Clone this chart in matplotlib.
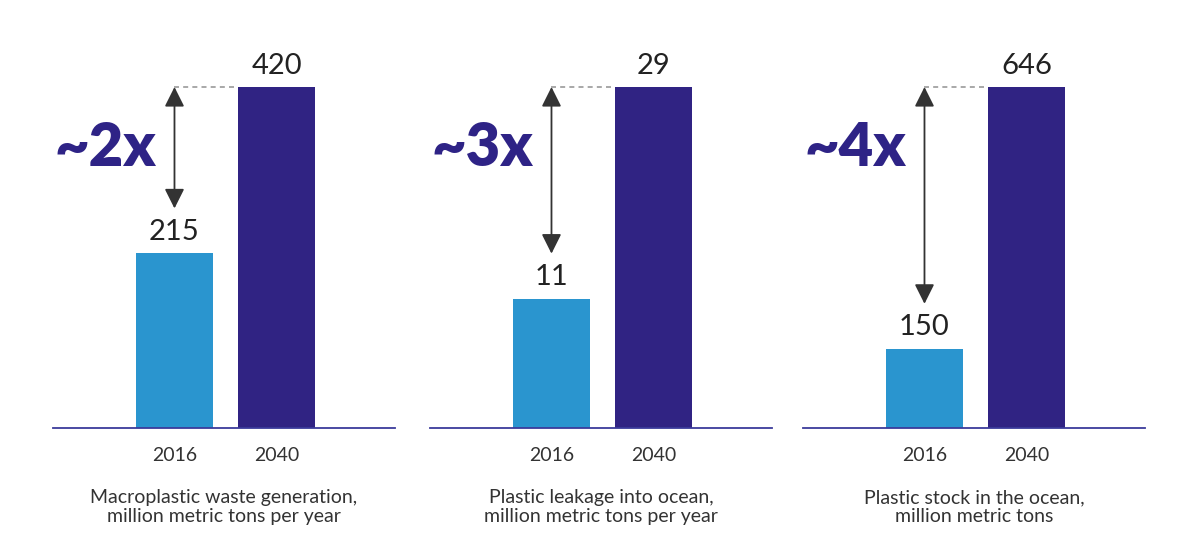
import matplotlib
matplotlib.use("Agg")
import matplotlib.pyplot as plt
from matplotlib.transforms import offset_copy

plt.rcParams['font.family'] = ['Lato', 'DejaVu Sans']

years = ["2016", "2040"]
values_2016 = [215, 11, 150]
values_2040 = [420, 29, 646]
multipliers = ["~2x", "~3x", "~4x"]
captions = [
    "Macroplastic waste generation,\nmillion metric tons per year",
    "Plastic leakage into ocean,\nmillion metric tons per year",
    "Plastic stock in the ocean,\nmillion metric tons",
]

C_LIGHT = "#2a95cf"
C_DARK = "#302383"
C_LINE = "#3b3b9b"
C_TEXT = "#222222"
C_MULT = "#2e2386"

W, H = 1200, 556
fig = plt.figure(figsize=(12, 5.56), dpi=100)

lefts_px = [53, 430, 803]
ax_w_px = 342
base_px = 428
top_px = 87

for k in range(3):
    ax = fig.add_axes([lefts_px[k] / W, (H - base_px) / H, ax_w_px / W, (base_px - top_px) / H])
    v1, v2 = values_2016[k], values_2040[k]
    ax.bar([0, 1], [v1, v2], width=0.76, color=[C_LIGHT, C_DARK], zorder=2)
    ax.set_xlim(-1.19, 2.16)
    ax.set_ylim(0, v2)
    for s in ["top", "left", "right"]:
        ax.spines[s].set_visible(False)
    ax.spines["bottom"].set_color(C_LINE)
    ax.spines["bottom"].set_linewidth(1.3)
    ax.set_yticks([])
    ax.set_xticks([0, 1])
    ax.set_xticklabels(years, fontsize=14, color="#333333")
    ax.tick_params(axis="x", length=0, pad=14)

    # value labels
    for i, v in enumerate([v1, v2]):
        ax.annotate(str(v), xy=(i, v), xytext=(0, 6), textcoords="offset points",
                    ha="center", va="bottom", fontsize=21, color=C_TEXT)

    # dashed guide line
    ax.plot([0, 1 - 0.38], [v2, v2], ls=(0, (3, 2.5)), color="#9a9a9a", lw=1.2,
            clip_on=False, zorder=1)

    # double-headed arrow
    bottom_tr = offset_copy(ax.transData, fig=fig, x=0, y=45, units="dots")
    ax.annotate("", xy=(0, v1), xycoords=bottom_tr, xytext=(0, v2), textcoords="data",
                arrowprops=dict(arrowstyle="<|-|>,head_length=0.5,head_width=0.25",
                                color="#333333", lw=1.3,
                                mutation_scale=24, shrinkA=0, shrinkB=0))

    # multiplier text
    ax.text(-0.68, 0.82 * v2, multipliers[k], ha="center", va="center",
            fontsize=43, fontweight="heavy", color=C_MULT)

    # caption
    ax.annotate(captions[k], xy=(0.5, 0), xycoords="axes fraction",
                xytext=(0, -79), textcoords="offset pixels", ha="center", va="center",
                fontsize=14, color="#333333", linespacing=1.15)

fig.savefig("out.png", dpi=100, facecolor="white")
